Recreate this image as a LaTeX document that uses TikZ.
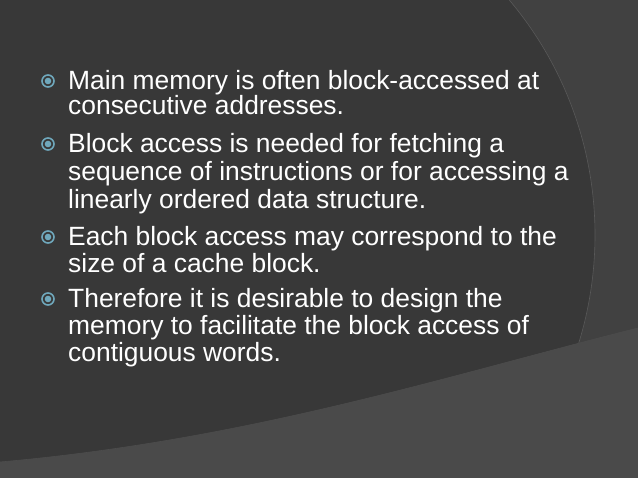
\documentclass[tikz,border=0pt]{standalone}
\usepackage{fontspec}
\setmainfont{Liberation Sans}
\definecolor{bgdark}{HTML}{383838}
\definecolor{bgright}{HTML}{414141}
\definecolor{bglow}{HTML}{4A4A4A}
\definecolor{bul}{HTML}{6FA8BC}
\begin{document}
\begin{tikzpicture}[x=1pt,y=-1pt,
  txt/.style={anchor=base west,inner sep=0,font=\fontsize{26.4}{30}\selectfont,text=white},
  bulletmark/.style={circle,draw=bul,line width=1.6pt,minimum size=12pt,inner sep=0}]
\useasboundingbox (0,0) rectangle (638,478);
\fill[bgright] (0,0) rectangle (638,478);
\begin{scope}
\clip (0,0) rectangle (638,478);
\fill[bgdark] (230,235) circle (365);
\draw[gray!70!black,line width=0.6pt] (230,235) circle (365);
\fill[bglow] (0,462) .. controls (250,440) and (450,375) .. (638,328) -- (638,478) -- (0,478) -- cycle;
\draw[gray!60!black,line width=0.6pt] (0,462) .. controls (250,440) and (450,375) .. (638,328);
\end{scope}
\foreach \y/\t in {90/Main memory is often block-accessed at,
  115/consecutive addresses.,
  153/Block access is needed for fetching a,
  181/sequence of instructions or for accessing a,
  209/linearly ordered data structure.,
  246/Each block access may correspond to the,
  273/size of a cache block.,
  308/Therefore it is desirable to design the,
  335/memory to facilitate the block access of,
  362/contiguous words.}
  \node[txt] (l\y) at (68,\y) {\t};
\foreach \y in {81,144,237,299}{
  \node[bulletmark] (b\y) at (48,\y) {};
  \fill[bul] (b\y.center) circle (3.3);
}
\end{tikzpicture}
\end{document}
